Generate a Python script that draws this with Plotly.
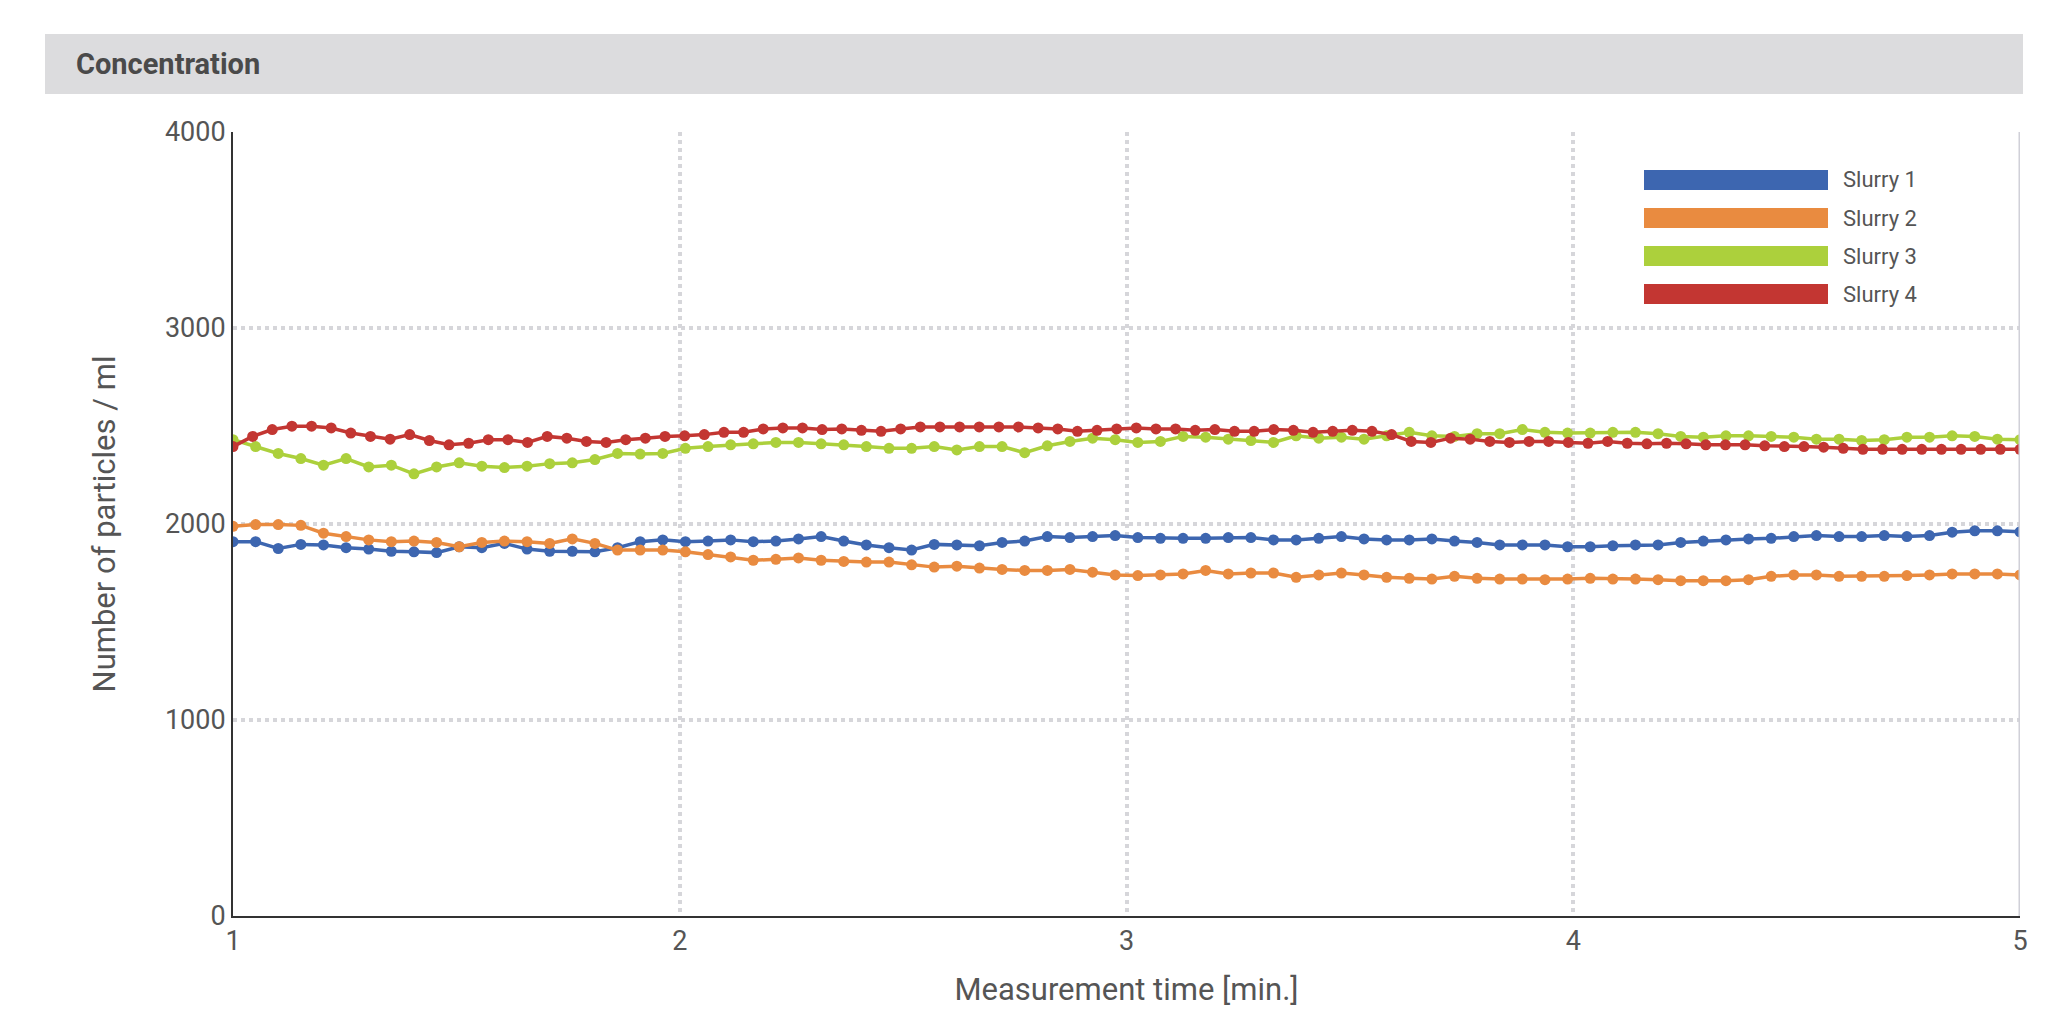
import numpy as np
import plotly.graph_objects as go

slurry1 = [1910,1910,1875,1896,1893,1879,1872,1861,1858,1854,1884,1879,1901,1872,1861,1861,1858,1879,1910,1919,1910,
           1913,1919,1910,1913,1924,1936,1913,1893,1879,1867,1896,1893,1889,1906,1913,1936,1931,1936,1941,1931,
           1927,1927,1927,1931,1931,1919,1919,1927,1936,1924,1919,1919,1924,1913,1906,1893,1893,1893,1884,
           1884,1889,1893,1893,1906,1913,1919,1924,1927,1936,1941,1936,1936,1941,1936,1941,1958,1965,1965,1960]
slurry2 = [1988,1997,1997,1993,1953,1936,1919,1910,1913,1906,1884,1906,1913,1910,1901,1924,1901,1867,1867,1867,1858,
           1844,1832,1815,1820,1827,1815,1809,1806,1806,1792,1780,1785,1775,1768,1763,1763,1768,1754,1740,1737,
           1740,1745,1763,1745,1750,1750,1728,1740,1750,1740,1728,1723,1719,1733,1723,1719,1719,1716,1719,1723,
           1719,1719,1716,1711,1711,1711,1716,1733,1740,1740,1733,1733,1733,1737,1740,1745,1745,1745,1740]
slurry3 = [2430,2395,2360,2334,2300,2334,2291,2300,2256,2291,2312,2295,2288,2295,2308,2312,2329,2360,2357,2360,2386,
           2395,2404,2409,2416,2416,2409,2404,2395,2386,2386,2395,2378,2395,2395,2364,2399,2421,2438,2430,2416,
           2421,2447,2443,2433,2426,2416,2450,2438,2443,2433,2450,2468,2450,2447,2461,2461,2482,2468,2464,
           2464,2468,2468,2461,2447,2443,2450,2450,2447,2443,2433,2433,2426,2430,2443,2443,2450,2447,2433,2430]
slurry4 = [2395,2447,2482,2499,2499,2490,2464,2447,2433,2456,2426,2404,2412,2430,2430,2416,2447,2438,2421,2416,2430,2438,2447,2450,
           2456,2468,2468,2485,2490,2490,2482,2485,2478,2473,2485,2495,2495,2495,2495,2495,2495,2490,2485,2473,2478,2485,2490,
           2485,2485,2478,2482,2473,2473,2482,2478,2468,2473,2478,2473,2456,2421,2416,2438,2433,2421,2416,2421,2421,2416,2412,
           2421,2412,2409,2412,2409,2404,2404,2404,2399,2395,2395,2392,2386,2381,2381,2381,2381,2381,2381,2381,2381,2381]

names = ["Slurry 1", "Slurry 2", "Slurry 3", "Slurry 4"]
colors = ["#3d66b0", "#e98b40", "#acd03c", "#c33632"]
series = [slurry1, slurry2, slurry3, slurry4]

fig = go.Figure()
for name, col, ys in zip(names, colors, series):
    xs = np.linspace(1, 5, len(ys))
    fig.add_trace(go.Scatter(x=xs, y=ys, mode="lines+markers", name=name,
                             line=dict(color=col, width=3.5), marker=dict(color=col, size=11),
                             showlegend=False))

L, R, T, B = 225, 2048 - 2012, 124, 1024 - 908
W, H = 2048 - L - R, 1024 - T - B
def px(x): return (x - L) / W
def py(y): return (1024 - B - y) / H

font = "Roboto"
grey = "#555555"
fig.update_layout(
    width=2048, height=1024, paper_bgcolor="white", plot_bgcolor="white",
    margin=dict(l=L, r=R, t=T, b=B),
    font=dict(family=font, color=grey, size=27),
    xaxis=dict(range=[1, 5], tickvals=[1, 2, 3, 4, 5], showgrid=True, gridcolor="#d6d6da",
               griddash="dot", gridwidth=4, showline=True, linecolor="#333333", linewidth=2,
               ticks="", zeroline=False,
               title=dict(text="Measurement time [min.]", font=dict(size=31), standoff=22)),
    yaxis=dict(range=[0, 4000], tickvals=[0, 1000, 2000, 3000, 4000], showgrid=True, gridcolor="#d6d6da",
               griddash="dot", gridwidth=4, showline=True, linecolor="#333333", linewidth=2,
               ticks="", zeroline=False,
               title=dict(text="Number of particles / ml", font=dict(size=31), standoff=40)),
)
fig.add_shape(type="line", xref="x", yref="paper", x0=5, x1=5, y0=0, y1=1,
              line=dict(color="#d0d0d8", width=3))
fig.add_shape(type="rect", xref="paper", yref="paper", x0=px(37), x1=px(2015),
              y0=py(86), y1=py(26), fillcolor="#dcdcde", line=dict(width=0), layer="below")
fig.add_annotation(text="<b>Concentration</b>", xref="paper", yref="paper", x=px(66), y=py(56),
                   xanchor="left", yanchor="middle", showarrow=False, font=dict(size=29, color="#4a4a4a"))
for i, (name, col) in enumerate(zip(names, colors)):
    yp = py(172 + 38 * i)
    fig.add_shape(type="line", xref="paper", yref="paper", x0=px(1636), x1=px(1820),
                  y0=yp, y1=yp, line=dict(color=col, width=20))
    fig.add_annotation(text=name, xref="paper", yref="paper", x=px(1833), y=yp,
                       xanchor="left", yanchor="middle", showarrow=False, font=dict(size=22, color=grey))

fig.write_html("out.html")
